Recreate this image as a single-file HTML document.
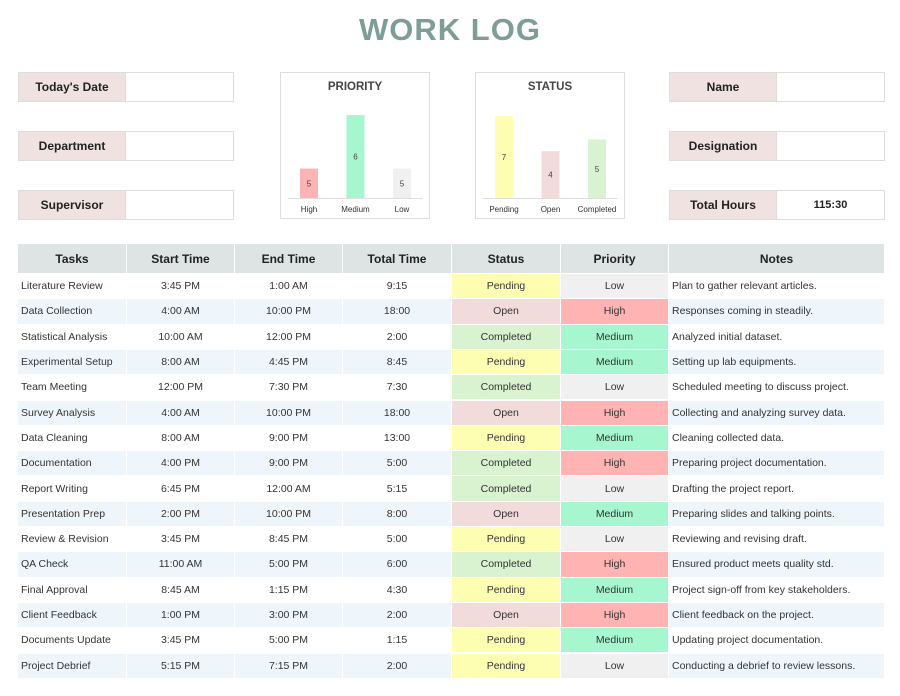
<!DOCTYPE html>
<html><head><meta charset="utf-8"><style>
body{margin:0;width:900px;height:696px;background:#fff;font-family:"Liberation Sans",sans-serif;position:relative;overflow:hidden;color:#222}
.a{position:absolute;box-sizing:border-box}
.lbl{background:#efe2e0;border:1px solid #ddd;font-weight:bold;font-size:12px;display:flex;align-items:center;justify-content:center}
.val{background:#fff;border:1px solid #ddd;font-weight:bold;font-size:11px;display:flex;align-items:center;justify-content:center}
.c{position:absolute;box-sizing:border-box;font-size:10.5px;display:flex;align-items:center;justify-content:center;white-space:nowrap;color:#333}
.h{background:#dde4e3;font-weight:bold;font-size:12px;color:#222}
</style></head><body>
<div class="a" style="left:0;width:900px;top:12px;text-align:center;font-size:31px;font-weight:bold;color:#7d9d96;letter-spacing:1px">WORK LOG</div>

<div class="a lbl" style="left:18px;top:72px;width:108px;height:30px">Today's Date</div>
<div class="a val" style="left:125px;top:72px;width:109px;height:30px"></div>
<div class="a lbl" style="left:18px;top:131px;width:108px;height:30px">Department</div>
<div class="a val" style="left:125px;top:131px;width:109px;height:30px"></div>
<div class="a lbl" style="left:18px;top:190px;width:108px;height:30px">Supervisor</div>
<div class="a val" style="left:125px;top:190px;width:109px;height:30px"></div>

<div class="a lbl" style="left:669px;top:72px;width:108px;height:30px">Name</div>
<div class="a val" style="left:776px;top:72px;width:109px;height:30px"></div>
<div class="a lbl" style="left:669px;top:131px;width:108px;height:30px">Designation</div>
<div class="a val" style="left:776px;top:131px;width:109px;height:30px"></div>
<div class="a lbl" style="left:669px;top:190px;width:108px;height:30px">Total Hours</div>
<div class="a val" style="left:776px;top:190px;width:109px;height:30px">115:30</div>

<svg class="a" style="left:280px;top:72px" width="150" height="147" id="pc"></svg>
<svg class="a" style="left:475px;top:72px" width="150" height="147" id="sc"></svg>

<div id="tbl"></div>
<script>
const prioCats=["High","Medium","Low"];
const prioVals=[5,6,5];
const prioColors=["#ffb3b3","#a6f7cf","#f0f0f0"];
const statCats=["Pending","Open","Completed"];
const statVals=[7,4,5];
const statColors=["#fefeb3","#f2dcdb","#d9f2d0"];
const NS="http://www.w3.org/2000/svg";
function chart(id,title,cats,vals,cols,min,k){
  const s=document.getElementById(id);
  const base=126;
  function yScale(v){return base-(v-min)*k;}
  function xCenter(i){return 29+i*46.5;}
  const r=document.createElementNS(NS,'rect');
  
  
  r.setAttribute('x',0.5);r.setAttribute('y',0.5);r.setAttribute('width',149);r.setAttribute('height',146);
  r.setAttribute('fill','#fff');r.setAttribute('stroke','#ddd');s.appendChild(r);
  const t=document.createElementNS(NS,'text');
  
  
  t.setAttribute('x',75);t.setAttribute('y',18);t.setAttribute('text-anchor','middle');
  t.setAttribute('font-size','11.5');t.setAttribute('font-weight','bold');t.setAttribute('fill','#444');
  t.textContent=title;s.appendChild(t);
  const ax=document.createElementNS(NS,'line');
  
  
  ax.setAttribute('x1',8);ax.setAttribute('x2',142);ax.setAttribute('y1',base+0.5);ax.setAttribute('y2',base+0.5);
  ax.setAttribute('stroke','#ddd');s.appendChild(ax);
  cats.forEach((c,i)=>{
    const y=yScale(vals[i]);
    const b=document.createElementNS(NS,'rect');
    
    
    b.setAttribute('x',xCenter(i)-9);b.setAttribute('width',18);
    b.setAttribute('y',y);b.setAttribute('height',base-y);b.setAttribute('fill',cols[i]);s.appendChild(b);
    const v=document.createElementNS(NS,'text');
    
    
    v.setAttribute('x',xCenter(i));v.setAttribute('y',(y+base)/2+3);v.setAttribute('text-anchor','middle');
    v.setAttribute('font-size','8');v.setAttribute('fill','#444');v.textContent=vals[i];s.appendChild(v);
    const l=document.createElementNS(NS,'text');
    
    
    l.setAttribute('x',xCenter(i));l.setAttribute('y',base+14);l.setAttribute('text-anchor','middle');
    l.setAttribute('font-size','8');l.setAttribute('fill','#333');l.textContent=c;s.appendChild(l);
  });
}
chart('pc','PRIORITY',prioCats,prioVals,prioColors,4.45,53.5);
chart('sc','STATUS',statCats,statVals,statColors,0,11.7);

const heads=["Tasks","Start Time","End Time","Total Time","Status","Priority","Notes"];
const rows=[
["Literature Review","3:45 PM","1:00 AM","9:15","Pending","Low","Plan to gather relevant articles."],
["Data Collection","4:00 AM","10:00 PM","18:00","Open","High","Responses coming in steadily."],
["Statistical Analysis","10:00 AM","12:00 PM","2:00","Completed","Medium","Analyzed initial dataset."],
["Experimental Setup","8:00 AM","4:45 PM","8:45","Pending","Medium","Setting up lab equipments."],
["Team Meeting","12:00 PM","7:30 PM","7:30","Completed","Low","Scheduled meeting to discuss project."],
["Survey Analysis","4:00 AM","10:00 PM","18:00","Open","High","Collecting and analyzing survey data."],
["Data Cleaning","8:00 AM","9:00 PM","13:00","Pending","Medium","Cleaning collected data."],
["Documentation","4:00 PM","9:00 PM","5:00","Completed","High","Preparing project documentation."],
["Report Writing","6:45 PM","12:00 AM","5:15","Completed","Low","Drafting the project report."],
["Presentation Prep","2:00 PM","10:00 PM","8:00","Open","Medium","Preparing slides and talking points."],
["Review & Revision","3:45 PM","8:45 PM","5:00","Pending","Low","Reviewing and revising draft."],
["QA Check","11:00 AM","5:00 PM","6:00","Completed","High","Ensured product meets quality std."],
["Final Approval","8:45 AM","1:15 PM","4:30","Pending","Medium","Project sign-off from key stakeholders."],
["Client Feedback","1:00 PM","3:00 PM","2:00","Open","High","Client feedback on the project."],
["Documents Update","3:45 PM","5:00 PM","1:15","Pending","Medium","Updating project documentation."],
["Project Debrief","5:15 PM","7:15 PM","2:00","Pending","Low","Conducting a debrief to review lessons."]];
const colX=[18,127,235,343,452,561,669,885];
const stC={Pending:"#fefeb3",Open:"#f2dcdb",Completed:"#d9f2d0"};
const prC={High:"#ffb3b3",Medium:"#a6f7cf",Low:"#f0f0f0"};
const T=document.getElementById('tbl');


heads.forEach((h,j)=>{
  const d=document.createElement('div');
  
  
  d.className='c h';
  d.style.cssText=`left:${colX[j]}px;top:244px;width:${colX[j+1]-colX[j]-1}px;height:29px`;
  d.textContent=h;T.appendChild(d);
});
rows.forEach((r,i)=>{
  const top=274+i*25.3;
  r.forEach((v,j)=>{
    const d=document.createElement('div');
    
    
    d.className='c';
    let bg=i%2?"#eef6fc":"#fff";
    if(j==4)bg=stC[v];if(j==5)bg=prC[v];
    let al=(j==0||j==6)?"justify-content:flex-start;padding-left:3px;":"";
    d.style.cssText=`left:${colX[j]}px;top:${top}px;width:${colX[j+1]-colX[j]-1}px;height:24.3px;background:${bg};${al}`;
    d.textContent=v;T.appendChild(d);
  });
});
</script>
</body></html>
